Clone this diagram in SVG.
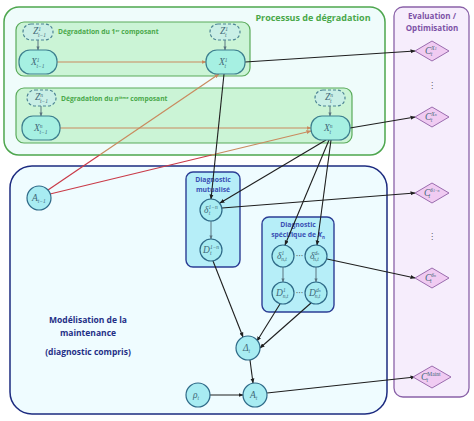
<svg xmlns="http://www.w3.org/2000/svg" width="474" height="421" viewBox="0 0 474 421">
<style>
.ttl{font-family:"Open Sans","Liberation Sans",sans-serif;font-weight:bold}
.g{fill:#49a84a}
.nv{fill:#1f2f86}
.bl{fill:#3a50b4}
.pu{fill:#7d52a6}
.m{font-family:"Liberation Serif",serif;font-style:italic;font-size:9.5px;fill:#3f6878}
.s{font-size:5.5px}
.xr{fill:#a6f0e2;stroke:#3d7f8e;stroke-width:1.2}
.zr{fill:#c9efe6;stroke:#4d8494;stroke-width:1.2;stroke-dasharray:3 2}
.cn{fill:#a8ecf2;stroke:#2f6a88;stroke-width:1.2}
.dm{fill:#f0cbf2;stroke:#9a6cae;stroke-width:1}
.k{stroke:#1e1e1e;stroke-width:1.1;fill:none}
.o{stroke:#c98a5e;stroke-width:1.2;fill:none}
.r{stroke:#c93a48;stroke-width:1.2;fill:none}
.gy{stroke:#5b7580;stroke-width:1;fill:none}
.dot{font-family:"DejaVu Sans",sans-serif;font-size:8px;fill:#555}
</style>
<defs>
<marker id="ak" viewBox="0 0 10 10" refX="9" refY="5" markerWidth="5" markerHeight="5" orient="auto" markerUnits="userSpaceOnUse"><path d="M0,1 L10,5 L0,9 z" fill="#1e1e1e"/></marker>
<marker id="ao" viewBox="0 0 10 10" refX="9" refY="5" markerWidth="5" markerHeight="5" orient="auto" markerUnits="userSpaceOnUse"><path d="M0,1 L10,5 L0,9 z" fill="#c98a5e"/></marker>
<marker id="ag" viewBox="0 0 10 10" refX="9" refY="5" markerWidth="4" markerHeight="4" orient="auto" markerUnits="userSpaceOnUse"><path d="M0,1 L10,5 L0,9 z" fill="#5b7580"/></marker>
</defs>
<rect width="474" height="421" fill="#ffffff"/>

<g id="processus">
<rect x="4" y="7" width="381" height="148" rx="15" fill="#effcfb" stroke="#4ea64e" stroke-width="1.5"/>
<text class="ttl g" x="313" y="21" font-size="9" text-anchor="middle">Processus de dégradation</text>
</g>
<g id="degr1">
<rect x="16" y="22" width="234" height="54" rx="8" fill="#cbf4d6" stroke="#5aaa5a" stroke-width="1.2"/>
<text class="ttl g" x="58" y="34" font-size="6.7">Dégradation du 1<tspan font-size="4" dy="-2.5">er</tspan><tspan dy="2.5"> composant</tspan></text>
</g>
<g id="degrn">
<rect x="16" y="88" width="336" height="55" rx="8" fill="#cbf4d6" stroke="#5aaa5a" stroke-width="1.2"/>
<text class="ttl g" x="61" y="101" font-size="6.7">Dégradation du <tspan font-style="italic">n</tspan><tspan font-size="4" dy="-2.5">ième</tspan><tspan dy="2.5"> composant</tspan></text>
</g>
<g id="evaluation">
<rect x="394" y="7" width="75" height="390" rx="9" fill="#f6edfc" stroke="#8a62a8" stroke-width="1.3"/>
<text class="ttl pu" x="432" y="19" font-size="8" text-anchor="middle">Evaluation /</text>
<text class="ttl pu" x="432" y="31" font-size="8" text-anchor="middle">Optimisation</text>
<text class="dot" x="432" y="88" text-anchor="middle">⋮</text>
<text class="dot" x="432" y="239" text-anchor="middle">⋮</text>
</g>
<g id="maintenance">
<rect x="10" y="166" width="377" height="248" rx="22" fill="#effcff" stroke="#1d2b80" stroke-width="1.5"/>
<text class="ttl nv" x="88" y="323" font-size="8.5" text-anchor="middle">Modélisation de la</text>
<text class="ttl nv" x="88" y="336" font-size="8.5" text-anchor="middle">maintenance</text>
<text class="ttl nv" x="88" y="355" font-size="8.5" text-anchor="middle">(diagnostic compris)</text>
</g>
<g id="diag-mutualise">
<rect x="186" y="172" width="54" height="95" rx="7" fill="#b6eef8" stroke="#2c3e95" stroke-width="1.4"/>
<text class="ttl bl" x="213" y="182" font-size="6.8" text-anchor="middle">Diagnostic</text>
<text class="ttl bl" x="213" y="192" font-size="6.8" text-anchor="middle">mutualisé</text>
</g>
<g id="diag-specifique">
<rect x="262" y="217" width="72" height="95" rx="7" fill="#b6eef8" stroke="#2c3e95" stroke-width="1.4"/>
<text class="ttl bl" x="298" y="227" font-size="6.8" text-anchor="middle">Diagnostic</text>
<text class="ttl bl" x="298" y="237" font-size="6.8" text-anchor="middle">spécifique de <tspan font-style="italic">X</tspan><tspan font-size="4.5" dy="1.5">n</tspan></text>
<text class="dot" x="299.5" y="259" text-anchor="middle">···</text>
<text class="dot" x="299.5" y="296" text-anchor="middle">···</text>
</g>

<g id="connectors">
<line class="o" x1="57" y1="62" x2="206" y2="62" marker-end="url(#ao)"/>
<line class="o" x1="60" y1="128" x2="311" y2="128" marker-end="url(#ao)"/>
<line class="gy" x1="38" y1="40" x2="38" y2="50" marker-end="url(#ag)"/>
<line class="gy" x1="225" y1="40" x2="225" y2="50" marker-end="url(#ag)"/>
<line class="gy" x1="41" y1="106" x2="41" y2="116" marker-end="url(#ag)"/>
<line class="gy" x1="330" y1="106" x2="330" y2="116" marker-end="url(#ag)"/>
<line class="r" x1="48" y1="190" x2="99.6" y2="155"/>
<line class="o" x1="99.6" y1="155" x2="219" y2="74" marker-end="url(#ao)"/>
<line class="r" x1="50" y1="194" x2="211.6" y2="155"/>
<line class="o" x1="211.6" y1="155" x2="311" y2="131" marker-end="url(#ao)"/>
<line class="k" x1="245" y1="62" x2="415" y2="51" marker-end="url(#ak)"/>
<line class="k" x1="350" y1="128" x2="415" y2="117" marker-end="url(#ak)"/>
<line class="k" x1="224" y1="74" x2="211" y2="199" marker-end="url(#ak)"/>
<line class="k" x1="326" y1="140" x2="220" y2="203" marker-end="url(#ak)"/>
<line class="k" x1="329" y1="140" x2="285" y2="245" marker-end="url(#ak)"/>
<line class="k" x1="331" y1="140" x2="317" y2="245" marker-end="url(#ak)"/>
<line class="k" x1="222" y1="208" x2="415" y2="193" marker-end="url(#ak)"/>
<line class="k" x1="327" y1="259" x2="415" y2="278" marker-end="url(#ak)"/>
<line class="gy" x1="211" y1="221" x2="211" y2="239" marker-end="url(#ag)"/>
<line class="gy" x1="283" y1="267" x2="283" y2="282" marker-end="url(#ag)"/>
<line class="gy" x1="316" y1="267" x2="316" y2="282" marker-end="url(#ag)"/>
<line class="k" x1="213" y1="261" x2="243" y2="337" marker-end="url(#ak)"/>
<line class="k" x1="280" y1="304" x2="257" y2="341" marker-end="url(#ak)"/>
<line class="k" x1="311" y1="303" x2="260" y2="348" marker-end="url(#ak)"/>
<line class="k" x1="250" y1="360" x2="253" y2="383" marker-end="url(#ak)"/>
<line class="k" x1="210" y1="395" x2="243" y2="395" marker-end="url(#ak)"/>
<line class="k" x1="267" y1="393" x2="415" y2="377" marker-end="url(#ak)"/>
</g>

<g id="Z1tm1"><rect class="zr" x="23" y="24" width="30" height="16" rx="8"/><text class="m" x="33" y="34">Z<tspan class="s" dy="-3">1</tspan><tspan class="s" dx="-3" dy="5.5">t−1</tspan></text></g>
<g id="X1tm1"><rect class="xr" x="19" y="50" width="38" height="24" rx="11"/><text class="m" x="31" y="65">X<tspan class="s" dy="-3">1</tspan><tspan class="s" dx="-3" dy="5.5">t−1</tspan></text></g>
<g id="Z1t"><rect class="zr" x="210" y="24" width="30" height="16" rx="8"/><text class="m" x="220" y="34">Z<tspan class="s" dy="-3">1</tspan><tspan class="s" dx="-3" dy="5.5">t</tspan></text></g>
<g id="X1t"><rect class="xr" x="206" y="50" width="39" height="24" rx="11"/><text class="m" x="219" y="65">X<tspan class="s" dy="-3">1</tspan><tspan class="s" dx="-3" dy="5.5">t</tspan></text></g>
<g id="Zntm1"><rect class="zr" x="27" y="90" width="29" height="16" rx="8"/><text class="m" x="35" y="100">Z<tspan class="s" dy="-3">n</tspan><tspan class="s" dx="-3" dy="5.5">t−1</tspan></text></g>
<g id="Xntm1"><rect class="xr" x="22" y="116" width="38" height="24" rx="11"/><text class="m" x="34" y="131">X<tspan class="s" dy="-3">n</tspan><tspan class="s" dx="-3" dy="5.5">t−1</tspan></text></g>
<g id="Znt"><rect class="zr" x="315" y="90" width="30" height="16" rx="8"/><text class="m" x="325" y="100">Z<tspan class="s" dy="-3">n</tspan><tspan class="s" dx="-3" dy="5.5">t</tspan></text></g>
<g id="Xnt"><rect class="xr" x="311" y="116" width="39" height="24" rx="11"/><text class="m" x="324" y="131">X<tspan class="s" dy="-3">n</tspan><tspan class="s" dx="-3" dy="5.5">t</tspan></text></g>

<g id="Atm1"><circle class="cn" cx="39" cy="198" r="12"/><text class="m" x="32" y="201">A<tspan class="s" dy="2">t−1</tspan></text></g>
<g id="delta1n"><circle class="cn" cx="211" cy="210" r="11"/><text class="m" x="204" y="213">δ<tspan class="s" dy="-4">1−n</tspan><tspan class="s" dx="-9" dy="6">t</tspan></text></g>
<g id="D1n"><circle class="cn" cx="211" cy="250" r="11"/><text class="m" x="203" y="253">D<tspan class="s" dy="-4">1−n</tspan><tspan class="s" dx="-9" dy="6">t</tspan></text></g>
<g id="delta1"><circle class="cn" cx="283" cy="256" r="11"/><text class="m" x="277" y="259">δ<tspan class="s" dy="-4">1</tspan><tspan class="s" dx="-3" dy="6">n,t</tspan></text></g>
<g id="deltadn"><circle class="cn" cx="316" cy="256" r="11"/><text class="m" x="310" y="259">δ<tspan class="s" dy="-4">d<tspan font-size="4">n</tspan></tspan><tspan class="s" dx="-6" dy="6">n,t</tspan></text></g>
<g id="D1"><circle class="cn" cx="283" cy="293" r="11"/><text class="m" x="276" y="296">D<tspan class="s" dy="-4">1</tspan><tspan class="s" dx="-3" dy="6">n,t</tspan></text></g>
<g id="Ddn"><circle class="cn" cx="316" cy="293" r="11"/><text class="m" x="309" y="296">D<tspan class="s" dy="-4">d<tspan font-size="4">n</tspan></tspan><tspan class="s" dx="-6" dy="6">n,t</tspan></text></g>
<g id="Deltat"><circle class="cn" cx="248" cy="348" r="12"/><text class="m" x="243" y="351" font-style="normal">Δ<tspan class="s" dy="2" font-style="italic">t</tspan></text></g>
<g id="rho"><circle class="cn" cx="198" cy="395" r="12"/><text class="m" x="193" y="398">ρ<tspan class="s" dy="2">t</tspan></text></g>
<g id="At"><circle class="cn" cx="255" cy="395" r="12"/><text class="m" x="250" y="398">A<tspan class="s" dy="2">t</tspan></text></g>

<g id="CX1"><polygon class="dm" points="432,41 449,51 432,61 415,51"/><text class="m" x="425" y="54">C<tspan class="s" dy="-4">X<tspan font-size="4">1</tspan></tspan><tspan class="s" dx="-6" dy="6">t</tspan></text></g>
<g id="CXn"><polygon class="dm" points="432,107 449,117 432,127 415,117"/><text class="m" x="425" y="120">C<tspan class="s" dy="-4">X<tspan font-size="4">n</tspan></tspan><tspan class="s" dx="-6" dy="6">t</tspan></text></g>
<g id="Cd1n"><polygon class="dm" points="432,183 449,193 432,203 415,193"/><text class="m" x="424" y="196">C<tspan class="s" dy="-4">δ<tspan font-size="4">1−n</tspan></tspan><tspan class="s" dx="-11" dy="6">t</tspan></text></g>
<g id="Cdn"><polygon class="dm" points="432,268 449,278 432,288 415,278"/><text class="m" x="425" y="281">C<tspan class="s" dy="-4">δ<tspan font-size="4">n</tspan></tspan><tspan class="s" dx="-6" dy="6">t</tspan></text></g>
<g id="CMaint"><polygon class="dm" points="432,366 451,377 432,388 413,377"/><text class="m" x="421" y="380">C<tspan class="s" dy="-4" font-style="normal">Maint</tspan><tspan class="s" dx="-14" dy="6">t</tspan></text></g>
</svg>
